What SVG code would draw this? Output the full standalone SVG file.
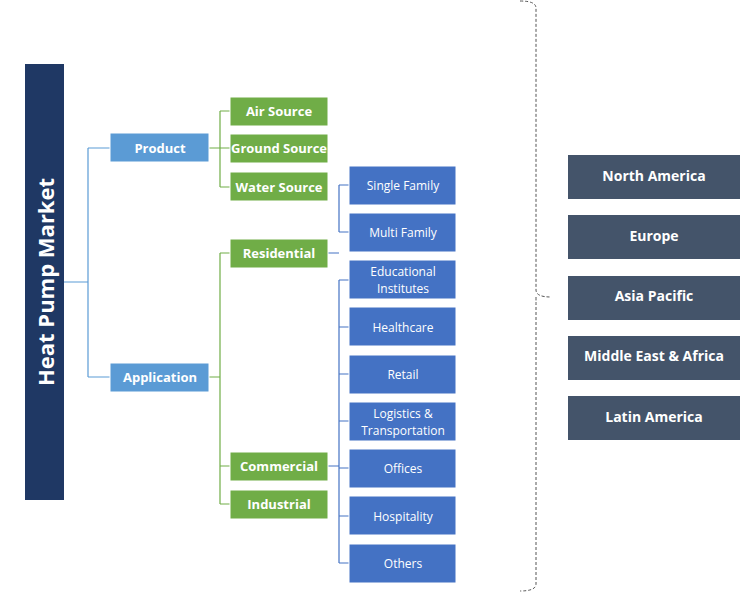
<svg xmlns="http://www.w3.org/2000/svg" width="741" height="594" viewBox="0 0 741 594">
<style>
.g{fill:#70ad47;stroke:#fff;stroke-width:1}
.b{fill:#4472c4;stroke:#fff;stroke-width:1}
.p{fill:#5b9bd5;stroke:#fff;stroke-width:1}
.r{fill:#44546a}
.t{font-family:"Open Sans","DejaVu Sans",sans-serif;fill:#fff;text-anchor:middle;dominant-baseline:central}
.bd{font-weight:bold;font-size:13px}
.rb{font-weight:bold;font-size:14px}
.n{font-size:12px}
.lb{fill:none;stroke:#5b9bd5;stroke-width:1.2}
.lg{fill:none;stroke:#70ad47;stroke-width:1.2}
.ln{fill:none;stroke:#4472c4;stroke-width:1.2}
</style>
<rect width="741" height="594" fill="#fff"/>
<g id="connectors">
<path class="lb" d="M64 282H88M88 148V377M88 148H110M88 377H110"/>
<path class="lg" d="M209 148H220M220 111V187M220 111H230M220 148H230M220 187H230"/>
<path class="lg" d="M209 377H220M220 253V504M220 253H230M220 466H230M220 504H230"/>
<path class="ln" d="M328 253H339M339 185V232M339 185H349M339 232H349"/>
<path class="ln" d="M328 466H339M339 280V563M339 280H349M339 327H349M339 374H349M339 421H349M339 468H349M339 516H349M339 563H349"/>
<path d="M520 1Q536 1 536 8V290Q536 297 551 297M536 297Q536 304 536 304V584Q536 591 520 591" fill="none" stroke="#555" stroke-width="1" stroke-dasharray="3,2"/>
</g>
<g id="root"><rect x="25" y="64" width="39" height="436" fill="#1f3864"/><text class="t" transform="translate(45 282) rotate(-90)" font-size="22" font-weight="bold">Heat Pump Market</text></g>
<g id="product"><rect class="p" x="110" y="133" width="99" height="29"/><text class="t bd" x="160" y="148">Product</text></g>
<g id="application"><rect class="p" x="110" y="363" width="99" height="29"/><text class="t bd" x="160" y="377">Application</text></g>
<g id="air"><rect class="g" x="230" y="97" width="98" height="29"/><text class="t bd" x="279" y="111">Air Source</text></g>
<g id="ground"><rect class="g" x="230" y="134" width="98" height="29"/><text class="t bd" x="279" y="148" textLength="96" lengthAdjust="spacingAndGlyphs">Ground Source</text></g>
<g id="water"><rect class="g" x="230" y="172" width="98" height="29"/><text class="t bd" x="279" y="187">Water Source</text></g>
<g id="residential"><rect class="g" x="230" y="239" width="98" height="29"/><text class="t bd" x="279" y="253">Residential</text></g>
<g id="commercial"><rect class="g" x="230" y="452" width="98" height="29"/><text class="t bd" x="279" y="466">Commercial</text></g>
<g id="industrial"><rect class="g" x="230" y="490" width="98" height="29"/><text class="t bd" x="279" y="504">Industrial</text></g>
<g id="single"><rect class="b" x="349" y="166" width="107" height="39"/><text class="t n" x="403" y="185">Single Family</text></g>
<g id="multi"><rect class="b" x="349" y="213" width="107" height="39"/><text class="t n" x="403" y="232">Multi Family</text></g>
<g id="edu"><rect class="b" x="349" y="260" width="107" height="39"/><text class="t n" x="403" y="271">Educational</text><text class="t n" x="403" y="288">Institutes</text></g>
<g id="health"><rect class="b" x="349" y="307" width="107" height="39"/><text class="t n" x="403" y="327">Healthcare</text></g>
<g id="retail"><rect class="b" x="349" y="355" width="107" height="39"/><text class="t n" x="403" y="374">Retail</text></g>
<g id="logistics"><rect class="b" x="349" y="402" width="107" height="39"/><text class="t n" x="403" y="413">Logistics &amp;</text><text class="t n" x="403" y="430">Transportation</text></g>
<g id="offices"><rect class="b" x="349" y="449" width="107" height="39"/><text class="t n" x="403" y="468">Offices</text></g>
<g id="hospitality"><rect class="b" x="349" y="496" width="107" height="39"/><text class="t n" x="403" y="516">Hospitality</text></g>
<g id="others"><rect class="b" x="349" y="544" width="107" height="39"/><text class="t n" x="403" y="563">Others</text></g>
<g id="na"><rect class="r" x="568" y="155" width="172" height="44"/><text class="t rb" x="654" y="175">North America</text></g>
<g id="eu"><rect class="r" x="568" y="215" width="172" height="44"/><text class="t rb" x="654" y="235">Europe</text></g>
<g id="ap"><rect class="r" x="568" y="276" width="172" height="44"/><text class="t rb" x="654" y="295">Asia Pacific</text></g>
<g id="mea"><rect class="r" x="568" y="336" width="172" height="44"/><text class="t rb" x="654" y="355">Middle East &amp; Africa</text></g>
<g id="la"><rect class="r" x="568" y="396" width="172" height="44"/><text class="t rb" x="654" y="416">Latin America</text></g>
</svg>
